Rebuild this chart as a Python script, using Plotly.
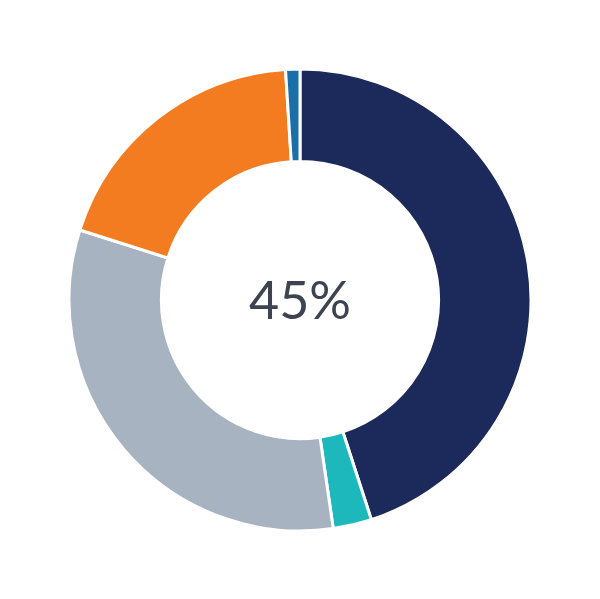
import plotly.graph_objects as go

labels = ["A", "B", "C", "D", "E"]
values = [45, 2.7, 32.2, 19.1, 1.0]
colors = ["#1b2a5a", "#1cb8bb", "#a8b3c1", "#f47c20", "#1a6fa8"]

fig = go.Figure(go.Pie(
    labels=labels,
    values=values,
    hole=0.6,
    sort=False,
    direction="clockwise",
    rotation=0,
    textinfo="none",
    marker=dict(colors=colors, line=dict(color="white", width=3)),
    domain=dict(x=[61 / 600, 523 / 600], y=[1 - 523 / 599, 1 - 61 / 599]),
    showlegend=False,
))

fig.add_annotation(text="45%", x=292 / 600, y=1 - 291 / 599, xref="paper", yref="paper",
                   showarrow=False, font=dict(size=52, color="#3d4350", family="Lato"))

fig.update_layout(width=600, height=599, margin=dict(l=0, r=0, t=0, b=0),
                  paper_bgcolor="white")

fig.write_html("out.html")
